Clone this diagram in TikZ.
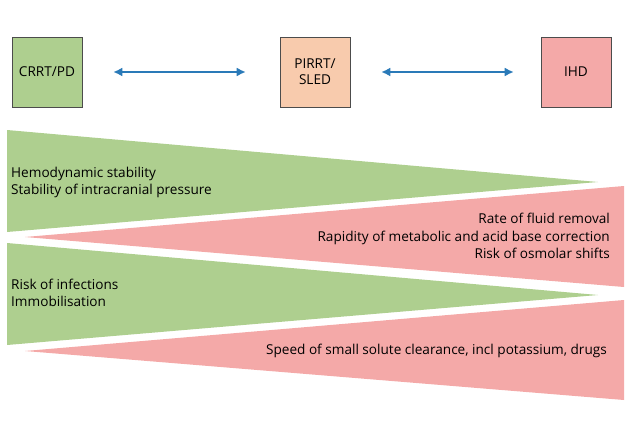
\documentclass[tikz,border=0pt]{standalone}
\usepackage{fontspec}
\setmainfont{Open Sans}
\usetikzlibrary{arrows.meta}
\begin{document}
\begin{tikzpicture}[x=1pt,y=-1pt,font=\fontsize{13.6}{16}\selectfont,
  box/.style={draw=black!70,line width=0.6pt,minimum width=70pt,minimum height=70pt,inner sep=1pt,align=center},
  arr/.style={{Latex[length=9pt,width=9pt]}-{Latex[length=9pt,width=9pt]},line width=1.6pt},
  lt/.style={anchor=base west,inner sep=0pt},
  rt/.style={anchor=base east,inner sep=0pt}]
\definecolor{gr}{HTML}{AECF8F}
\definecolor{rd}{HTML}{F4A9A8}
\definecolor{og}{HTML}{F8CBAD}
\definecolor{ar}{HTML}{2A7AB8}
\useasboundingbox (0,0) rectangle (631,420);
\node[box,fill=gr] (a) at (47,72) {CRRT/PD};
\node[box,fill=og] (b) at (315,72) {PIRRT/\\SLED};
\node[box,fill=rd] (c) at (576,72) {IHD};
\draw[arr,draw=ar] ([xshift=31pt]a.east) -- ([xshift=-34pt]b.west);
\draw[arr,draw=ar] ([xshift=31pt]b.east) -- ([xshift=-27pt]c.west);
\fill[gr] (7,130) -- (598,182) -- (7,232) -- cycle;
\fill[rd] (25,237) -- (624,186) -- (624,287) -- cycle;
\fill[gr] (7,243) -- (598,295) -- (7,345) -- cycle;
\fill[rd] (25,351) -- (624,300) -- (624,400) -- cycle;
\node[lt] (t1) at (11,177) {Hemodynamic stability};
\node[lt] (t2) at (11,194) {Stability of intracranial pressure};
\node[rt] (t3) at (610,223) {Rate of fluid removal};
\node[rt] (t4) at (610,241) {Rapidity of metabolic and acid base correction};
\node[rt] (t5) at (610,258) {Risk of osmolar shifts};
\node[lt] (t6) at (11,289) {Risk of infections};
\node[lt] (t7) at (11,306) {Immobilisation};
\node[rt] (t8) at (607,354) {Speed of small solute clearance, incl potassium, drugs};
\end{tikzpicture}
\end{document}
